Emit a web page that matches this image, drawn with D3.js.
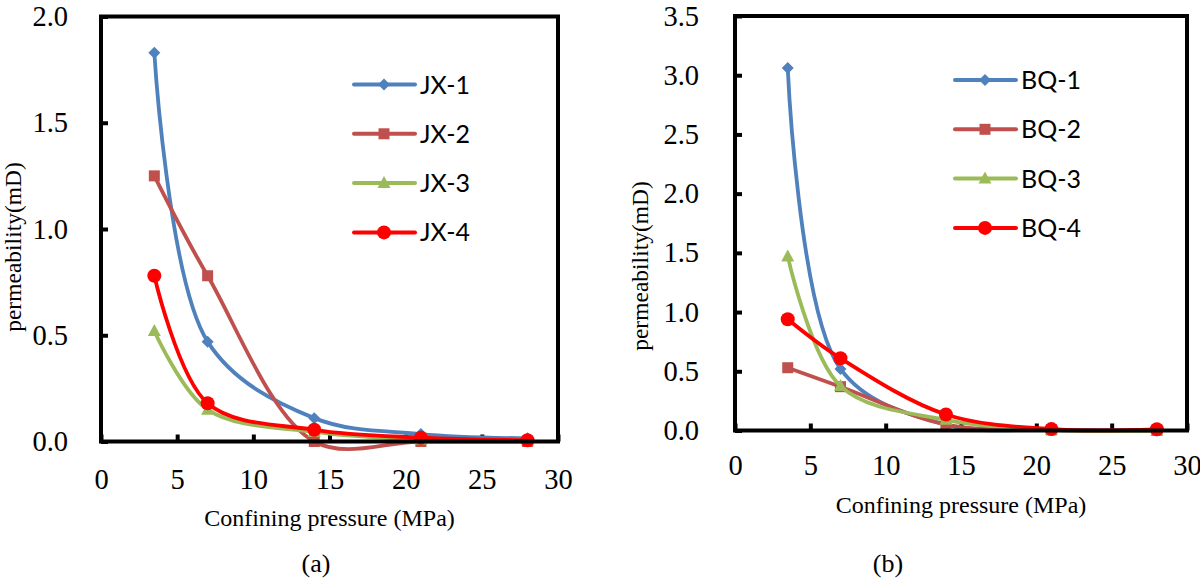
<!DOCTYPE html>
<html>
<head>
<meta charset="utf-8">
<script src="https://cdn.jsdelivr.net/npm/d3@7"></script>
<style>
  body { margin: 0; background: #fff; }
</style>
</head>
<body>
<div id="chart"></div>
<script>
// Confining pressure (MPa) where permeability was measured
var pressure = [3.5, 7, 14, 21, 28];

// Panel (a) - JX samples
var jxNames = ["JX-1", "JX-2", "JX-3", "JX-4"];
var jx1 = [1.83, 0.47, 0.11, 0.035, 0.015];
var jx2 = [1.25, 0.78, 0.0, 0.0, 0.0];
var jx3 = [0.52, 0.15, 0.045, 0.01, 0.005];
var jx4 = [0.78, 0.18, 0.055, 0.018, 0.006];

// Panel (b) - BQ samples
var bqNames = ["BQ-1", "BQ-2", "BQ-3", "BQ-4"];
var bq1 = [3.06, 0.52, 0.05, 0.005, 0.0];
var bq2 = [0.53, 0.37, 0.05, 0.005, 0.0];
var bq3 = [1.47, 0.375, 0.09, 0.005, 0.0];
var bq4 = [0.94, 0.61, 0.135, 0.012, 0.01];

// axis ticks
var xTicks = [0, 5, 10, 15, 20, 25, 30];
var yTicksA = [0, 0.5, 1.0, 1.5, 2.0];
var yTicksB = [0, 0.5, 1.0, 1.5, 2.0, 2.5, 3.0, 3.5];

var colors = ["#4F81BD", "#C0504D", "#9BBB59", "#FF0000"];
var markers = ["diamond", "square", "triangle", "circle"];

var serif = "'Liberation Serif', 'Times New Roman', serif";

var svg = d3.select("#chart")
  .append("svg")
  .attr("width", 1200)
  .attr("height", 580);

function drawMarker(g, type, cx, cy, color) {
  if (type === "circle") {
    g.append("circle").attr("cx", cx).attr("cy", cy).attr("r", 7).attr("fill", color);
  } else if (type === "square") {
    g.append("rect").attr("x", cx - 5.5).attr("y", cy - 5.5).attr("width", 11).attr("height", 11).attr("fill", color);
  } else if (type === "diamond") {
    g.append("path").attr("d", "M" + cx + "," + (cy - 6) + "L" + (cx + 6) + "," + cy + "L" + cx + "," + (cy + 6) + "L" + (cx - 6) + "," + cy + "Z").attr("fill", color);
  } else {
    g.append("path").attr("d", "M" + cx + "," + (cy - 7) + "L" + (cx + 6.5) + "," + (cy + 5) + "L" + (cx - 6.5) + "," + (cy + 5) + "Z").attr("fill", color);
  }
}

function drawPanel(p) {
  var x = d3.scaleLinear().domain([0, 30]).range([p.left, p.right]);
  var y = d3.scaleLinear().domain([0, p.yMax]).range([p.bottom, p.top]);

  // y axis, ticks point into the plot
  var yAxis = svg.append("g")
    .attr("transform", "translate(" + p.left + ",0)")
    .call(d3.axisLeft(y).tickValues(p.yTicks).tickSize(-7).tickPadding(p.yPad).tickFormat(d3.format(".1f")));
  yAxis.select(".domain").remove();
  yAxis.selectAll("line").attr("stroke", "#000").attr("stroke-width", 4);
  yAxis.selectAll("text")
    .style("font-family", serif)
    .style("font-size", "28.5px").attr("fill", "#000");

  // x axis
  var xAxis = svg.append("g")
    .attr("transform", "translate(0," + p.bottom + ")")
    .call(d3.axisBottom(x).tickValues(xTicks).tickSize(-7).tickPadding(p.xPad));
  xAxis.select(".domain").remove();
  xAxis.selectAll("line").attr("stroke", "#000").attr("stroke-width", 4);
  xAxis.selectAll("text")
    .style("font-family", serif)
    .style("font-size", "28.5px").attr("fill", "#000");

  // series lines and markers (smoothed like the spreadsheet chart)
  var line = d3.line()
    .x(function(d) { return x(d[0]); })
    .y(function(d) { return y(d[1]); })
    .curve(d3.curveCatmullRom.alpha(0.5));

  p.series.forEach(function(vals, i) {
    var pts = pressure.map(function(px, j) { return [px, vals[j]]; });
    var g = svg.append("g");
    g.append("path")
      .attr("d", line(pts))
      .attr("fill", "none")
      .attr("stroke", colors[i])
      .attr("stroke-width", 3.8)
      .attr("stroke-linejoin", "round")
      .attr("stroke-linecap", "round");
    pts.forEach(function(d) { drawMarker(g, markers[i], x(d[0]), y(d[1]), colors[i]); });
  });

  // plot frame
  svg.append("rect")
    .attr("x", p.left).attr("y", p.top)
    .attr("width", p.right - p.left).attr("height", p.bottom - p.top)
    .attr("fill", "none").attr("stroke", "#000").attr("stroke-width", 4);

  // legend
  p.names.forEach(function(name, i) {
    var ly = p.legY + i * 49.3;
    var g = svg.append("g");
    g.append("line")
      .attr("x1", p.legX).attr("x2", p.legX + 61)
      .attr("y1", ly).attr("y2", ly)
      .attr("stroke", colors[i]).attr("stroke-width", 4).attr("stroke-linecap", "round");
    drawMarker(g, markers[i], p.legX + 30, ly, colors[i]);
    g.append("text")
      .attr("x", p.legX + 66).attr("y", ly)
      .attr("dy", "0.36em")
      .style("font-family", "Lato, 'Liberation Sans', sans-serif")
      .style("font-size", "25px")
      .text(name);
  });

  // axis titles
  svg.append("text")
    .attr("x", (p.left + p.right) / 2).attr("y", p.xTitleY)
    .attr("text-anchor", "middle")
    .style("font-family", serif)
    .style("font-size", "24px")
    .text("Confining pressure (MPa)");

  svg.append("text")
    .attr("transform", "translate(" + p.yTitleX + "," + p.yTitleY + ") rotate(-90)")
    .attr("text-anchor", "middle")
    .style("font-family", serif)
    .style("font-size", "23.5px")
    .text("permeability(mD)");

  // panel label
  svg.append("text")
    .attr("x", p.labelX).attr("y", 572)
    .attr("text-anchor", "middle")
    .style("font-family", serif)
    .style("font-size", "26px")
    .text(p.label);
}

drawPanel({
  left: 101, right: 558, top: 16.5, bottom: 441.5,
  yMax: 2.0, yTicks: yTicksA, yPad: 33, xPad: 27,
  series: [jx1, jx2, jx3, jx4], names: jxNames,
  legX: 354, legY: 84.5,
  xTitleY: 526, yTitleX: 21, yTitleY: 247,
  label: "(a)", labelX: 316
});

drawPanel({
  left: 735, right: 1187, top: 16, bottom: 430.5,
  yMax: 3.5, yTicks: yTicksB, yPad: 36, xPad: 24,
  series: [bq1, bq2, bq3, bq4], names: bqNames,
  legX: 955, legY: 80,
  xTitleY: 513, yTitleX: 648, yTitleY: 266,
  label: "(b)", labelX: 888
});
</script>
</body>
</html>
